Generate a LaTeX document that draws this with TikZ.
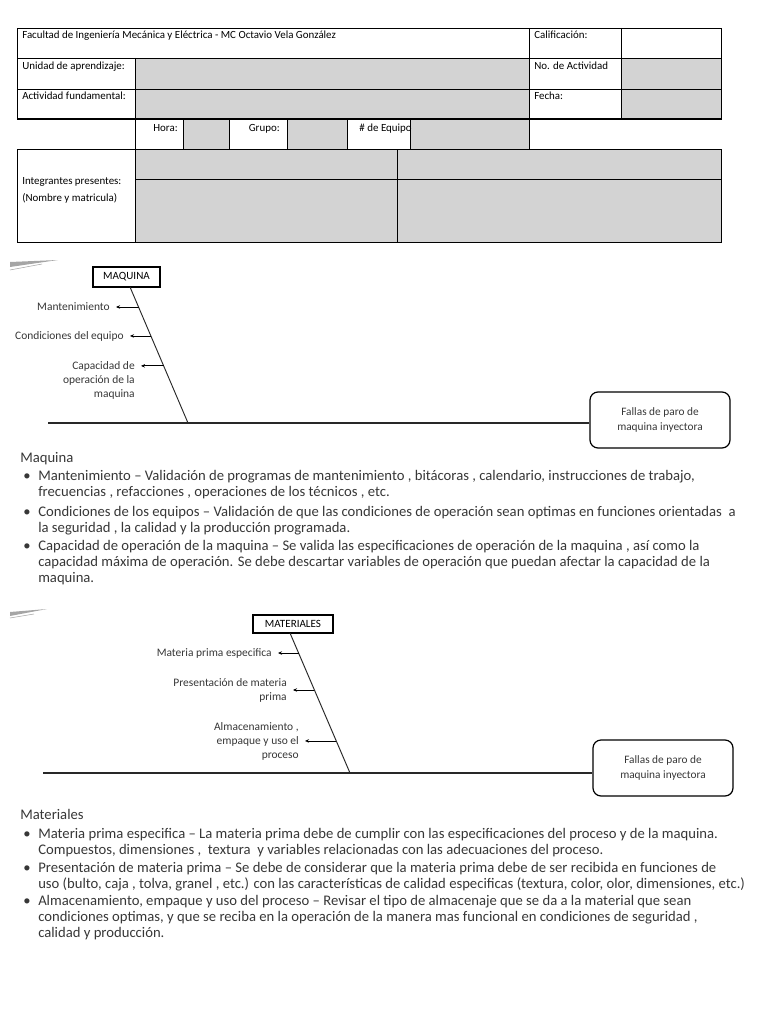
\documentclass[tikz,border=0pt]{standalone}
\usepackage{fontspec}
\setmainfont{Carlito}
\usepackage{tikz}
\usetikzlibrary{arrows.meta, positioning, calc}
\definecolor{mygrey}{RGB}{211,211,211}
\definecolor{mydark}{RGB}{40,40,40}
\definecolor{mytext}{RGB}{55,55,55}
\definecolor{mystreak}{RGB}{165,165,165}
\newcommand{\bul}{\makebox[11.25pt][l]{\textbullet}}
\newcommand{\hang}{\hspace*{11.25pt}}
\tikzset{
  cell/.style={draw=black, line width=0.7pt},
  tabtext/.style={inner sep=0pt, anchor=north west,
    font=\fontsize{8.2}{9.5}\selectfont},
  headbox/.style={rectangle, draw=black, line width=1.1pt,
    inner sep=0pt, font=\fontsize{8.3}{9}\selectfont},
  effbox/.style={rectangle, draw=black, line width=0.9pt,
    rounded corners=6pt, align=center, inner sep=0pt,
    minimum width=105pt, minimum height=42pt,
    font=\fontsize{8.5}{11}\selectfont, text=mytext},
  lbl/.style={inner xsep=4.5pt, inner ysep=0pt, align=right,
    font=\fontsize{8.6}{10.5}\selectfont, text=mytext},
  bone/.style={line width=0.7pt, color=mydark},
  spine/.style={line width=0.9pt, color=mydark},
  arw/.style={-{Stealth[length=3pt,width=2.6pt]}, line width=0.6pt, color=black},
  body/.style={inner sep=0pt, align=left, anchor=north west,
    font=\fontsize{11}{12}\selectfont, text=mytext}
}

\begin{document}
\begin{tikzpicture}[x=0.75pt, y=-0.75pt]
  \useasboundingbox (0,0) rectangle (768,1024);

  % Header table: grey cells
  \fill[mygrey] (135,58) rectangle (529,119);
  \fill[mygrey] (621,58) rectangle (721,119);
  \fill[mygrey] (183,119) rectangle (229,149);
  \fill[mygrey] (287,119) rectangle (347,149);
  \fill[mygrey] (410,119) rectangle (529,149);
  \fill[mygrey] (135,149) rectangle (721,242);
  % Header table: borders
  \draw[cell] (17,28) rectangle (721,119);
  \draw[cell] (17,58) -- (721,58) (17,89) -- (721,89);
  \draw[cell] (135,58) -- (135,149) (529,28) -- (529,149) (621,28) -- (621,119);
  \draw[cell] (183,119) -- (183,149) (229,119) -- (229,149) (287,119) -- (287,149)
    (347,119) -- (347,149) (410,119) -- (410,149);
  \draw[line width=1.6pt] (17,119) -- (721,119);
  \draw[cell] (17,149) rectangle (721,242);
  \draw[cell] (135,149) -- (135,242) (135,179) -- (721,179) (397,149) -- (397,242);

  % Header table: texts
  \node[tabtext] (fac) at (22,31) {Facultad de Ingeniería Mecánica y Eléctrica - MC Octavio Vela González};
  \node[tabtext] (calif) at (534,31) {Calificación:};
  \node[tabtext] (unidad) at (22,62) {Unidad de aprendizaje:};
  \node[tabtext] (noact) at (534,62) {No. de Actividad};
  \node[tabtext] (activ) at (22,92) {Actividad fundamental:};
  \node[tabtext] (fecha) at (534,92) {Fecha:};
  \node[tabtext, anchor=north east] (hora) at (178,124) {Hora:};
  \node[tabtext, anchor=north east] (grupo) at (280,124) {Grupo:};
  \node[tabtext, anchor=north east] (equipo) at (412,124) {\# de Equipo};
  \node[tabtext, anchor=west] (integ) at (22,182) {Integrantes presentes:};
  \node[tabtext, anchor=west] (nombre) at (22,198) {(Nombre y matricula)};

  % Maquina diagram
  \fill[mystreak] (10,262) -- (58,260) -- (10,267) -- cycle;
  \draw[mystreak, line width=0.4pt] (10,270) -- (42,264);
  \node[headbox, minimum width=50pt, minimum height=15pt] (mq) at (126.5,277) {MAQUINA};
  \coordinate (d1a) at (130,287);
  \coordinate (d1b) at (188,423);
  \coordinate (s1) at (48,423);
  \node[effbox] (ef1) at (660,420) {Fallas de paro de\\maquina inyectora};
  \draw[spine] (s1) -- (s1 -| ef1.west);
  \draw[bone] (d1a) -- (d1b);
  \coordinate (b11) at ($(d1a)!0.147!(d1b)$);
  \coordinate (b12) at ($(d1a)!0.360!(d1b)$);
  \coordinate (b13) at ($(d1a)!0.580!(d1b)$);
  \node[lbl, anchor=east] (l11) at (116,307) {Mantenimiento};
  \node[lbl, anchor=east] (l12) at (130,336) {Condiciones del equipo};
  \node[lbl, anchor=east] (l13) at (141,380) {Capacidad de\\operación de la\\maquina};
  \draw[arw] (b11) -- (b11 -| l11.east);
  \draw[arw] (b12) -- (b12 -| l12.east);
  \draw[arw] (b13) -- (b13 -| l13.east);

  % Maquina notes
  \node[body] (mqtit) at (20,452) {Maquina};
  \node[body] (mq1) at (23,470) {\bul Mantenimiento – Validación de programas de mantenimiento , bitácoras , calendario, instrucciones de trabajo,\\
    \hang frecuencias , refacciones , operaciones de los técnicos , etc.};
  \node[body] (mq2) at (23,506) {\bul Condiciones de los equipos – Validación de que las condiciones de operación sean optimas en funciones orientadas\ \ a\\
    \hang la seguridad , la calidad y la producción programada.};
  \node[body] (mq3) at (23,540) {\bul Capacidad de operación de la maquina – Se valida las especificaciones de operación de la maquina , así como la\\
    \hang capacidad máxima de operación. Se debe descartar variables de operación que puedan afectar la capacidad de la\\
    \hang maquina.};

  % Materiales diagram
  \fill[mystreak] (10,612) -- (47,609) -- (10,616) -- cycle;
  \draw[mystreak, line width=0.4pt] (10,618) -- (34,614);
  \node[headbox, minimum width=60pt, minimum height=13.5pt] (mt) at (293,624) {MATERIALES};
  \coordinate (d2a) at (290,633);
  \coordinate (d2b) at (350,773);
  \coordinate (s2) at (43,773);
  \node[effbox] (ef2) at (663,768) {Fallas de paro de\\maquina inyectora};
  \draw[spine] (s2) -- (s2 -| ef2.west);
  \draw[bone] (d2a) -- (d2b);
  \coordinate (b21) at ($(d2a)!0.143!(d2b)$);
  \coordinate (b22) at ($(d2a)!0.407!(d2b)$);
  \coordinate (b23) at ($(d2a)!0.771!(d2b)$);
  \node[lbl, anchor=east] (l21) at (278,653) {Materia prima especifica};
  \node[lbl, anchor=east] (l22) at (293,690) {Presentación de materia\\prima};
  \node[lbl, anchor=east] (l23) at (305,741) {Almacenamiento ,\\empaque y uso el\\proceso};
  \draw[arw] (b21) -- (b21 -| l21.east);
  \draw[arw] (b22) -- (b22 -| l22.east);
  \draw[arw] (b23) -- (b23 -| l23.east);

  % Materiales notes
  \node[body] (mttit) at (20,809) {Materiales};
  \node[body] (mt1) at (23,828) {\bul Materia prima especifica – La materia prima debe de cumplir con las especificaciones del proceso y de la maquina.\\
    \hang Compuestos, dimensiones ,\ \ textura\ \ y variables relacionadas con las adecuaciones del proceso.};
  \node[body] (mt2) at (23,862) {\bul Presentación de materia prima – Se debe de considerar que la materia prima debe de ser recibida en funciones de\\
    \hang uso (bulto, caja , tolva, granel , etc.) con las características de calidad especificas (textura, color, olor, dimensiones, etc.)};
  \node[body] (mt3) at (23,895) {\bul Almacenamiento, empaque y uso del proceso – Revisar el tipo de almacenaje que se da a la material que sean\\
    \hang condiciones optimas, y que se reciba en la operación de la manera mas funcional en condiciones de seguridad ,\\
    \hang calidad y producción.};
\end{tikzpicture}
\end{document}
